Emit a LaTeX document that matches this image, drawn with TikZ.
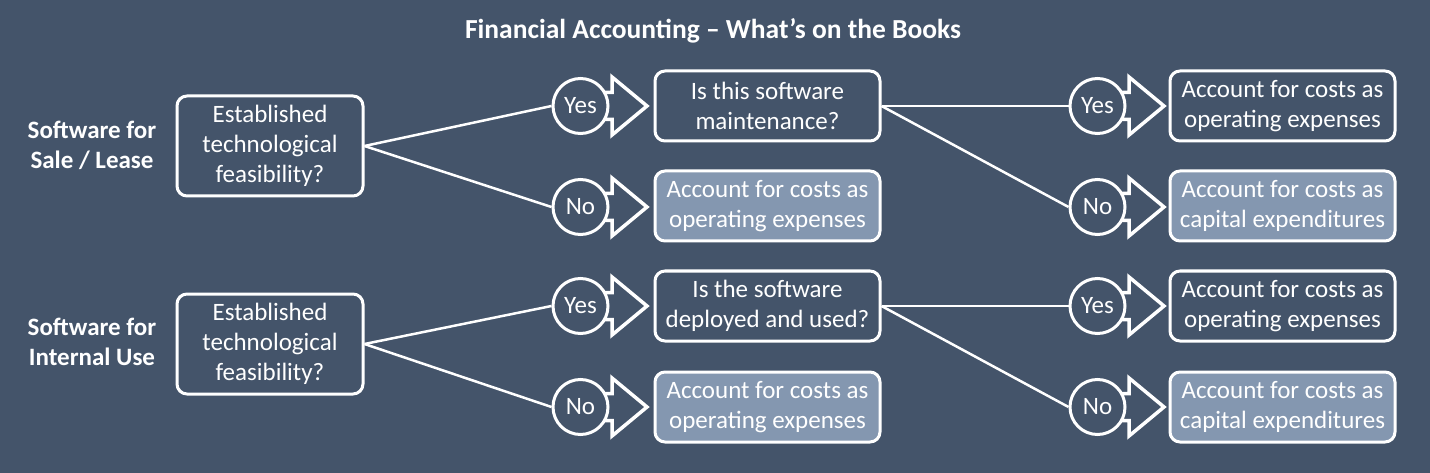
\documentclass[tikz,border=0pt]{standalone}
\usepackage{fontspec}
\setmainfont{Carlito}
\definecolor{bgc}{HTML}{44546A}
\definecolor{fillc}{HTML}{8497B0}
\pgfdeclarelayer{bglayer}
\pgfdeclarelayer{arrowlayer}
\pgfsetlayers{bglayer,arrowlayer,main}
\tikzset{
  txt/.style={text=white, font=\fontsize{25}{30}\selectfont, align=center, inner sep=0pt},
  qbox/.style={txt, draw=white, line width=3pt, rounded corners=10pt, fill=bgc},
  ansbox/.style={qbox, minimum width=225pt, minimum height=70pt},
  resbox/.style={ansbox, fill=fillc},
  yn/.style={txt, circle, draw=white, line width=3pt, fill=bgc, minimum size=55pt},
  conn/.style={draw=white, line width=2.5pt},
  blockarr/.style={draw=white, line width=3.5pt, fill=bgc, line join=miter},
  lab/.style={text=white, font=\fontsize{25}{30}\selectfont\bfseries, align=center, inner sep=0pt}
}
\newcommand{\barrowfrom}[1]{%
  \begin{pgfonlayer}{arrowlayer}
  \path[blockarr] (#1.center) ++(0,-13.5) -- ++(31.5,0) -- ++(0,-15.5) -- ++(35,29) -- ++(-35,29) -- ++(0,-15.5) -- ++(-31.5,0) -- cycle;
  \end{pgfonlayer}}
\begin{document}
\begin{tikzpicture}[x=1pt,y=-1pt]
\begin{pgfonlayer}{bglayer}
\fill[bgc] (0,0) rectangle (1430,473);
\end{pgfonlayer}
\useasboundingbox (0,0) rectangle (1430,473);

\node[lab, font=\fontsize{27.5}{30}\selectfont\bfseries] (title) at (713,31) {Financial Accounting – What’s on the Books};

\node[lab] (lab1) at (92,145) {Software for\\Sale / Lease};
\node[lab] (lab2) at (92,342) {Software for\\Internal Use};

\node[qbox, minimum width=186pt, minimum height=100pt] (q1) at (270,146) {Established\\technological\\feasibility?};
\node[qbox, minimum width=186pt, minimum height=100pt] (q2) at (270,344) {Established\\technological\\feasibility?};

% left column circles
\node[yn] (y1) at (580.5,106) {Yes};
\node[yn] (n1) at (580.5,207) {No};
\node[yn] (y2) at (580.5,306) {Yes};
\node[yn] (n2) at (580.5,407) {No};
% right column circles
\node[yn] (y1r) at (1097.5,106) {Yes};
\node[yn] (n1r) at (1097.5,207) {No};
\node[yn] (y2r) at (1097.5,306) {Yes};
\node[yn] (n2r) at (1097.5,407) {No};

\foreach \c in {y1,n1,y2,n2,y1r,n1r,y2r,n2r} {\barrowfrom{\c}}

% middle column boxes
\node[ansbox] (m1) at (767.5,106) {Is this software\\maintenance?};
\node[resbox] (o1) at (767.5,206) {Account for costs as\\operating expenses};
\node[ansbox] (m2) at (767.5,306) {Is the software\\deployed and used?};
\node[resbox] (o2) at (767.5,407) {Account for costs as\\operating expenses};
% right column boxes
\node[ansbox] (r1) at (1282.5,106) {Account for costs as\\operating expenses};
\node[resbox] (r2) at (1282.5,206) {Account for costs as\\capital expenditures};
\node[ansbox] (r3) at (1282.5,306) {Account for costs as\\operating expenses};
\node[resbox] (r4) at (1282.5,407) {Account for costs as\\capital expenditures};

% connectors
\draw[conn] (q1.east) -- (y1.west);
\draw[conn] (q1.east) -- (n1.west);
\draw[conn] (q2.east) -- (y2.west);
\draw[conn] (q2.east) -- (n2.west);
\draw[conn] (m1.east) -- (y1r.west);
\draw[conn] (m1.east) -- (n1r.west);
\draw[conn] (m2.east) -- (y2r.west);
\draw[conn] (m2.east) -- (n2r.west);
\end{tikzpicture}
\end{document}
